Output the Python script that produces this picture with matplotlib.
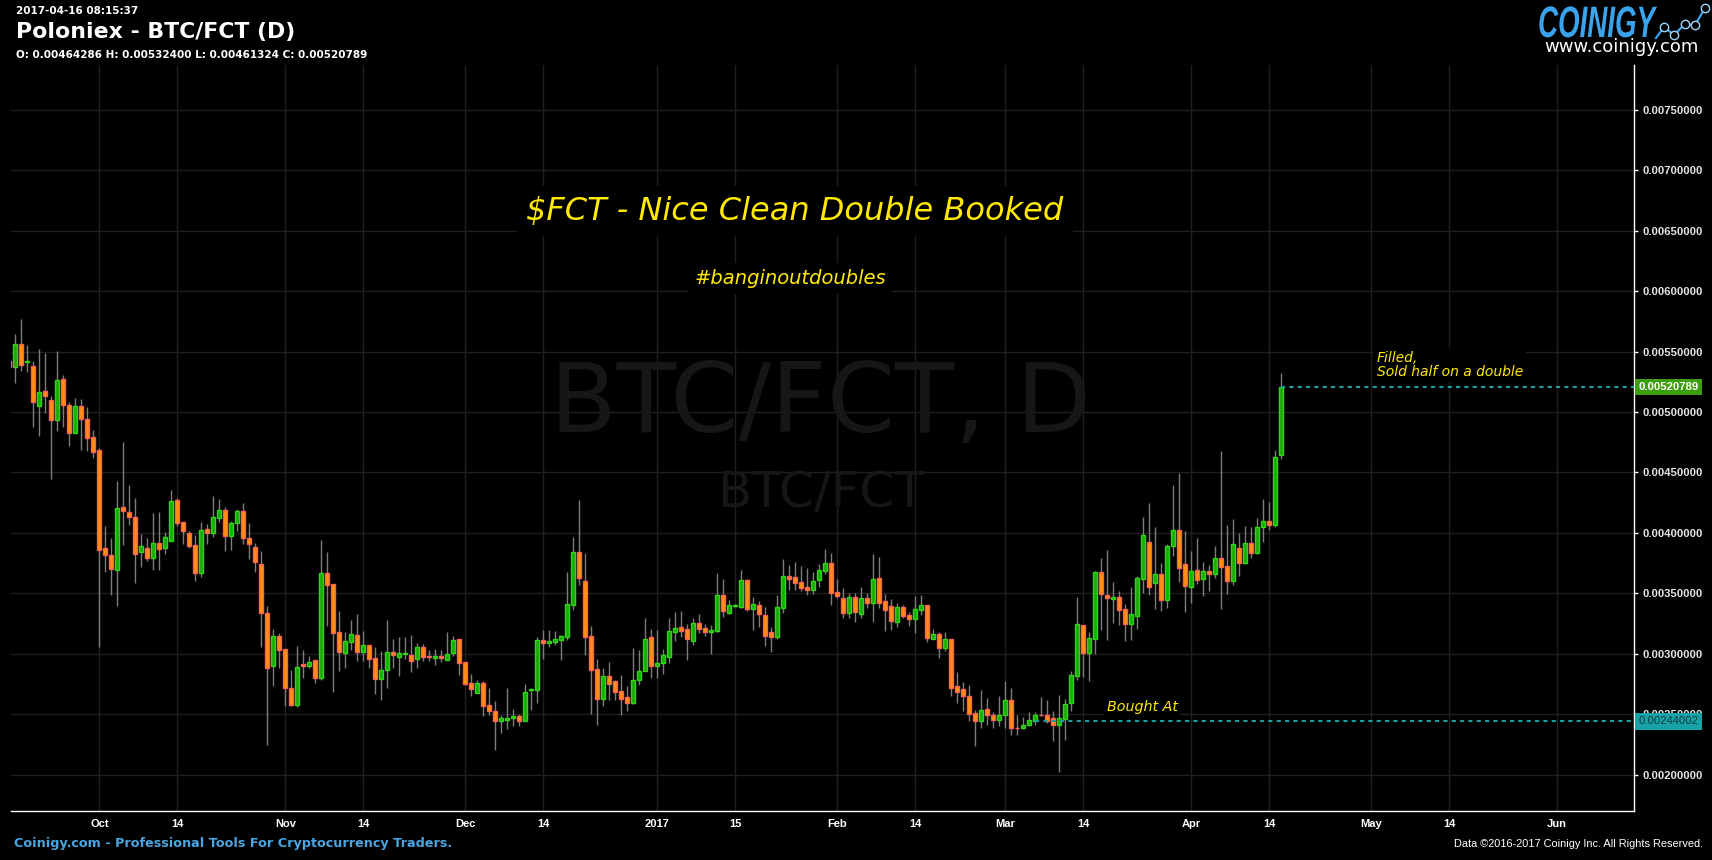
import matplotlib
matplotlib.use("Agg")
import matplotlib.pyplot as plt
import matplotlib.dates as mdates
from matplotlib.lines import Line2D
from matplotlib.patches import PathPatch
from matplotlib.textpath import TextPath
from matplotlib.font_manager import FontProperties
from matplotlib.transforms import Affine2D
import numpy as np
import pandas as pd

# Poloniex BTC/FCT daily candles, prices in 1e-5 BTC, one value per day from start_day
start_day = "2016-09-16"
opens = [
    541.9, 537.2, 556.7, 541.5, 538.3, 504.7, 517.8, 510.3, 493.3, 527.8, 506.1, 482.5, 505.3, 494.4, 479.4,  # Sep 16-30
    468.6, 387.8, 381.9, 369.7, 421.1, 416.9, 412.8, 383.9, 387.8, 378.9, 391.9, 387.2, 393.1, 426.9, 409.4, 400.3,
    390.3, 367.2, 403.6, 399.7, 412.2, 418.6, 397.2, 408.1, 417.8, 395.8, 388.6, 374.4, 333.6, 289.7, 314.4,  # Oct
    303.6, 271.9, 257.2, 291.1, 289.7, 294.4, 279.7, 366.9, 357.5, 317.8, 300.6, 309.7, 315.3, 301.4, 306.9,
    296.1, 278.9, 286.1, 301.1, 297.2, 299.4, 298.6, 295.3, 305.8, 297.8, 296.4, 297.8, 294.7, 300.9, 312.3,  # Nov
    293.2, 275.9, 267.1, 275.9, 257.7, 252.7, 243.9, 244.8, 246.4, 248.6, 243.9, 269.8, 269.8, 311.4, 309.2, 309.8,
    311.4, 314.2, 340.3, 384.2, 360.2, 314.7, 287.5, 262.9, 281.7, 277.5, 269.3, 264.3, 259.6, 278.4, 285.3,  # Dec
    313.9, 290.2, 291.9, 297.6, 318.0, 322.2, 320.5, 310.6, 325.5, 321.3, 318.0, 318.9, 348.6, 333.7, 339.5, 338.7,
    361.0, 337.0, 340.3, 332.1, 318.0, 313.9, 337.9, 364.3, 363.5, 359.4, 355.2, 352.7, 361.0, 368.5, 375.1,  # Jan
    351.1, 346.1, 333.7, 347.0, 332.9, 346.1, 342.0, 362.7, 343.7, 339.5, 326.3, 338.7, 332.4, 328.8,
    336.2, 340.3, 312.5, 316.4, 305.1, 312.3, 273.1, 270.9, 264.9, 250.8, 243.9, 254.4, 249.4, 244.8,  # Feb
    248.9, 261.8, 238.9, 238.1, 240.9, 244.2, 249.4, 249.4, 247.0, 240.6, 246.1, 258.8, 281.7, 323.8, 300.9, 312.5,
    367.6, 348.3, 345.6, 347.0, 337.0, 324.9, 331.5, 362.1, 392.4, 358.8, 366.0, 344.5, 389.4, 402.3, 374.2,  # Mar
    355.5, 369.3, 362.1, 368.5, 366.2, 379.2, 372.6, 360.5, 387.5, 375.3, 391.6, 383.6, 404.8, 409.8, 406.5, 464.286,  # Apr
]
highs = [
    542.5, 564.5, 577.0, 555.3, 541.9, 552.5, 549.2, 513.6, 550.3, 531.1, 508.6, 511.9, 511.1, 503.9, 485.3,
    470.3, 405.3, 396.1, 442.8, 475.3, 439.4, 428.6, 398.9, 396.1, 416.1, 416.9, 401.1, 435.3, 428.6, 409.4, 401.9,
    398.1, 408.9, 407.5, 430.6, 427.8, 421.4, 409.5, 419.4, 424.4, 407.8, 391.4, 385.3, 339.4, 320.3, 316.9,
    303.6, 286.1, 306.1, 302.8, 297.8, 294.4, 394.4, 384.4, 357.5, 335.3, 317.8, 327.8, 332.8, 318.6, 306.9,
    305.5, 302.2, 327.8, 311.9, 313.6, 313.6, 315.3, 308.6, 307.8, 302.8, 303.6, 302.8, 317.8, 314.7, 312.3,
    293.2, 283.3, 278.4, 277.5, 271.8, 261.0, 248.9, 271.8, 254.4, 250.3, 274.8, 271.8, 313.6, 319.7, 319.7, 318.9,
    315.5, 367.6, 396.6, 427.1, 383.3, 323.0, 295.7, 288.3, 293.2, 278.4, 282.5, 273.4, 304.8, 303.2, 329.6,
    320.5, 319.7, 304.0, 329.6, 334.6, 335.4, 324.6, 329.6, 332.9, 324.6, 323.8, 366.8, 361.8, 344.5, 341.0, 369.3,
    361.8, 347.0, 343.7, 338.7, 322.2, 348.6, 378.4, 373.4, 375.9, 372.6, 370.9, 367.6, 374.2, 386.6, 383.3,
    361.8, 354.4, 350.3, 350.3, 355.2, 350.3, 382.5, 380.0, 349.4, 345.3, 342.0, 340.3, 334.6, 347.8,
    348.6, 340.3, 320.2, 318.0, 318.0, 312.3, 285.0, 276.7, 274.2, 253.3, 270.1, 263.5, 251.9, 264.6,
    277.5, 271.8, 248.9, 247.2, 251.4, 251.9, 264.3, 261.8, 252.7, 266.0, 262.7, 285.8, 347.0, 323.8, 318.0, 368.5,
    379.2, 385.8, 359.4, 351.9, 341.2, 355.2, 364.3, 413.1, 424.7, 404.8, 375.1, 390.8, 439.5, 449.4, 401.5,
    385.0, 395.7, 375.9, 373.4, 389.1, 467.6, 406.5, 411.4, 399.9, 405.6, 404.8, 412.3, 428.0, 425.5, 468.4, 532.4,
]
lows = [
    536.5, 523.9, 534.4, 533.0, 487.7, 480.5, 498.9, 444.7, 484.7, 488.0, 472.2, 482.5, 468.9, 468.0, 462.2,
    305.5, 368.0, 348.9, 339.7, 389.7, 406.4, 358.9, 371.9, 376.9, 369.7, 368.9, 382.8, 393.1, 405.3, 391.1, 387.2,
    360.3, 363.1, 391.1, 396.4, 408.9, 384.7, 385.6, 401.4, 390.6, 378.1, 368.0, 305.5, 224.7, 273.1, 288.0,
    256.4, 256.4, 255.6, 279.7, 288.0, 275.6, 278.1, 323.0, 268.0, 285.6, 288.0, 303.1, 293.9, 294.2, 288.0,
    266.4, 261.4, 271.4, 288.0, 281.4, 295.3, 284.7, 288.0, 293.9, 294.2, 290.8, 293.1, 294.7, 297.7, 282.2,
    274.0, 264.6, 267.1, 248.1, 248.9, 220.5, 234.0, 237.3, 239.8, 239.8, 243.9, 253.0, 259.6, 295.7, 305.6, 307.3,
    294.9, 311.4, 336.2, 356.9, 299.3, 249.7, 241.4, 257.1, 261.3, 261.3, 248.9, 252.2, 258.0, 273.7, 285.3,
    279.5, 279.5, 282.8, 292.7, 310.6, 313.9, 294.9, 307.3, 317.2, 314.7, 299.8, 318.0, 330.4, 332.9, 339.0, 337.9,
    335.4, 319.7, 322.2, 306.5, 301.5, 312.3, 333.7, 352.7, 352.7, 351.9, 348.6, 349.4, 355.2, 366.0, 340.3,
    346.1, 329.6, 329.6, 326.3, 329.6, 337.9, 326.3, 337.9, 318.9, 319.7, 322.2, 329.6, 323.0, 317.2,
    332.1, 309.8, 312.5, 296.5, 302.3, 264.6, 259.6, 252.2, 243.9, 223.3, 238.9, 241.4, 238.9, 239.8,
    238.1, 232.4, 232.4, 237.3, 239.8, 240.6, 248.1, 242.3, 227.4, 201.8, 228.2, 252.2, 278.4, 280.8, 277.5, 300.1,
    319.7, 311.4, 325.5, 323.8, 310.6, 311.4, 320.5, 350.5, 348.6, 337.0, 335.4, 337.9, 380.9, 359.4, 334.6,
    342.0, 357.7, 347.8, 351.9, 362.7, 337.0, 349.4, 356.9, 364.3, 374.2, 379.2, 382.5, 392.4, 402.3, 405.0, 461.324,
]
closes = [
    537.2, 556.7, 539.2, 541.9, 508.0, 516.9, 513.0, 493.3, 526.9, 505.8, 482.5, 505.3, 493.9, 478.9, 467.2,
    385.8, 381.4, 370.5, 420.3, 418.1, 413.1, 382.2, 389.4, 378.9, 391.9, 386.7, 396.7, 426.1, 408.0, 401.4, 388.9,
    367.2, 402.8, 399.7, 412.8, 418.6, 397.2, 408.6, 417.8, 395.6, 390.6, 375.6, 333.9, 288.0, 314.4, 303.1,
    271.9, 257.2, 289.4, 289.7, 292.8, 279.7, 366.9, 357.2, 317.2, 301.4, 310.3, 316.1, 301.4, 306.9, 295.3,
    278.9, 286.9, 301.1, 298.9, 300.3, 300.3, 293.9, 305.8, 297.2, 297.2, 297.8, 296.4, 299.4, 311.4, 291.9,
    275.3, 270.4, 275.9, 257.1, 252.2, 243.9, 247.0, 247.0, 248.6, 243.9, 268.2, 270.9, 311.4, 309.2, 310.6, 312.3,
    314.7, 341.2, 384.2, 362.7, 314.2, 286.9, 262.1, 281.7, 275.3, 268.7, 262.9, 258.8, 278.4, 285.8, 312.3,
    290.2, 292.1, 299.0, 318.9, 321.3, 318.9, 312.3, 325.5, 320.5, 318.0, 319.7, 348.6, 335.4, 340.3, 340.0, 361.0,
    337.0, 341.2, 332.9, 314.7, 313.9, 338.7, 364.3, 361.8, 358.5, 354.4, 352.7, 360.2, 369.3, 375.1, 350.3,
    347.8, 333.7, 347.0, 334.6, 346.1, 342.0, 361.8, 342.0, 336.2, 327.1, 338.7, 331.3, 329.1, 337.0,
    340.3, 313.1, 316.4, 305.1, 312.3, 271.2, 267.9, 264.6, 250.5, 243.9, 253.6, 248.9, 244.8, 249.4,
    261.8, 238.1, 238.1, 240.9, 245.3, 249.4, 248.9, 243.9, 240.6, 247.0, 258.5, 282.5, 324.6, 300.9, 313.1, 367.6,
    349.7, 346.4, 347.0, 336.5, 324.9, 332.9, 362.7, 398.2, 355.5, 366.0, 344.5, 389.1, 402.3, 371.2, 356.3,
    368.5, 361.3, 368.5, 366.2, 379.2, 372.0, 360.5, 390.8, 375.3, 391.6, 383.6, 404.8, 409.8, 406.5, 463.0, 520.789,
]

bought_at = 0.00244002
bought_from = "2017-03-06"
last_close = 0.00520789
tick_dates = ["2016-10-01", "2016-10-14", "2016-11-01", "2016-11-14", "2016-12-01", "2016-12-14",
              "2017-01-02", "2017-01-15", "2017-02-01", "2017-02-14", "2017-03-01", "2017-03-14",
              "2017-04-01", "2017-04-14", "2017-05-01", "2017-05-14", "2017-06-01"]
tick_labels = ["Oct", "14", "Nov", "14", "Dec", "14", "2017", "15", "Feb", "14",
               "Mar", "14", "Apr", "14", "May", "14", "Jun"]
price_ticks = [0.0020, 0.0025, 0.0030, 0.0035, 0.0040, 0.0045, 0.0050,
               0.0055, 0.0060, 0.0065, 0.0070, 0.0075]

W, H = 1712, 860
fig = plt.figure(figsize=(W / 100, H / 100), dpi=100, facecolor="black")
ax = fig.add_axes([11 / W, 49 / H, 1623 / W, 746 / H])
ax.set_facecolor("black")

days = mdates.date2num(pd.date_range(start_day, periods=len(opens)))
o = np.array(opens) * 1e-5
hi = np.array(highs) * 1e-5
lo = np.array(lows) * 1e-5
c = np.array(closes) * 1e-5
up = c >= o
body_lo = np.minimum(o, c)
body_h = np.maximum(np.abs(c - o), 0.000005)

ax.vlines(days, lo, hi, color="#7d7d7d", lw=1, zorder=2)
ax.bar(days[up], body_h[up], 0.62, bottom=body_lo[up], color="#1ea70c",
       edgecolor="#2fd612", lw=1, zorder=3)
ax.bar(days[~up], body_h[~up], 0.62, bottom=body_lo[~up], color="#ff9800",
       edgecolor="#ff5e5e", lw=1, zorder=3)

xmin = mdates.date2num(pd.Timestamp("2016-09-16")) + 0.28
xmax = mdates.date2num(pd.Timestamp("2017-06-13")) + 0.8
ax.set_xlim(xmin, xmax)
ax.set_ylim(0.001698, 0.007873)

# dashed level lines
ax.plot([mdates.date2num(pd.Timestamp(bought_from)), xmax], [bought_at, bought_at],
        color="#1b9ea2", lw=1.5, ls=(0, (2, 2)), zorder=4)
ax.plot([days[-1], xmax], [last_close, last_close],
        color="#1b9ea2", lw=1.5, ls=(0, (2, 2)), zorder=4)

# watermark
ax.text(0.499, 0.543, "BTC/FCT, D", transform=ax.transAxes, ha="center", va="center",
        fontsize=70, color="#161616", zorder=1)
ax.text(0.499, 0.426, "BTC/FCT", transform=ax.transAxes, ha="center", va="center",
        fontsize=36, color="#161616", zorder=1)

# annotations
ax.text(0.483, 0.804, "$FCT - Nice Clean Double Booked", transform=ax.transAxes,
        ha="center", va="center", fontsize=23, style="italic", color="#ffea00", zorder=5,
        bbox=dict(boxstyle="square,pad=0.3", fc="black", ec="none"))
ax.text(0.480, 0.714, "#banginoutdoubles", transform=ax.transAxes,
        ha="center", va="center", fontsize=14, style="italic", color="#ffea00", zorder=5,
        bbox=dict(boxstyle="square,pad=0.3", fc="black", ec="none"))
ax.text(0.8417, 0.579, "Filled,\nSold half on a double", transform=ax.transAxes,
        ha="left", va="bottom", fontsize=10, style="italic", color="#ffea00", zorder=5,
        linespacing=1.0, bbox=dict(boxstyle="square,pad=0.2", fc="black", ec="none"))
ax.text(0.675, 0.139, "Bought At", transform=ax.transAxes,
        ha="left", va="center", fontsize=10.3, style="italic", color="#ffea00", zorder=5,
        bbox=dict(boxstyle="square,pad=0.2", fc="black", ec="none"))

# axes styling
ax.grid(True, color="#1f1f1f", lw=1)
ax.set_axisbelow(True)
for side in ["left", "top"]:
    ax.spines[side].set_visible(False)
for side in ["right", "bottom"]:
    ax.spines[side].set_color("white")
    ax.spines[side].set_linewidth(1)

ax.yaxis.tick_right()
ax.set_yticks(price_ticks)
ax.set_yticklabels([f"{v:.8f}" for v in price_ticks], fontfamily="Liberation Sans",
                   fontweight="bold", fontsize=8.1, color="#e6e6e6")
ax.tick_params(axis="y", length=3, width=1, color="white", pad=3)

ax.set_xticks(mdates.date2num(pd.to_datetime(tick_dates)))
ax.set_xticklabels(tick_labels, fontfamily="Liberation Sans", fontweight="bold",
                   fontsize=8, color="white")
ax.tick_params(axis="x", length=0, pad=6)

# price tags on the axis
yt = ax.get_yaxis_transform()
ax.text(1.003, last_close, f"{last_close:.8f}", transform=yt, ha="left", va="center",
        fontfamily="Liberation Sans", fontweight="bold", fontsize=8.1, color="white",
        clip_on=False, zorder=6,
        bbox=dict(boxstyle="square,pad=0.3", fc="#3d9e0e", ec="none"))
ax.text(1.003, bought_at, f"{bought_at:.8f}", transform=yt, ha="left", va="center",
        fontfamily="Liberation Sans", fontsize=8.1, color="#0b3c40",
        clip_on=False, zorder=6,
        bbox=dict(boxstyle="square,pad=0.3", fc="#16a2a6", ec="none"))

# header
fig.text(16 / W, 1 - 11 / H, "2017-04-16 08:15:37", color="white", fontsize=7.5,
         fontweight="bold", va="center")
fig.text(16 / W, 1 - 32 / H, "Poloniex - BTC/FCT (D)", color="white", fontsize=15.8,
         fontweight="bold", va="center")
fig.text(16 / W, 1 - 55 / H, "O: 0.00464286 H: 0.00532400 L: 0.00461324 C: 0.00520789",
         color="white", fontsize=7.5, fontweight="bold", va="center")

# logo: squeezed bold italic word mark plus a small chart icon
logo = TextPath((0, 0), "COINIGY", size=44,
                prop=FontProperties(family="Liberation Sans", weight="bold", style="italic"))
fig.add_artist(PathPatch(logo, fc="#3aa3ee", ec="none",
                         transform=Affine2D().scale(0.0063, 0.0100).translate(15.38, 8.23)
                         + fig.dpi_scale_trans))
px = np.array([1656, 1664, 1674, 1685, 1695, 1705])
py = np.array([38, 27, 35, 24, 25, 8])
fig.add_artist(Line2D(px / W, 1 - py / H, transform=fig.transFigure, color="#3aa3ee",
                      lw=1.6, marker="o", markersize=6, markerfacecolor="black",
                      markeredgecolor="#9fd4f7", markevery=[1, 2, 3, 4, 5]))
fig.text(1621 / W, 1 - 47 / H, "www.coinigy.com", color="white", fontsize=13,
         ha="center", va="center")

# footer
fig.text(14 / W, 1 - 844 / H, "Coinigy.com - Professional Tools For Cryptocurrency Traders.",
         color="#4aa6e2", fontsize=9.2, fontweight="bold", va="center")
fig.text(1703 / W, 1 - 844 / H, "Data \u00a92016-2017 Coinigy Inc. All Rights Reserved.",
         color="white", fontsize=7.9, fontfamily="Liberation Sans", ha="right", va="center")

fig.savefig("out.png", dpi=100, facecolor="black")
